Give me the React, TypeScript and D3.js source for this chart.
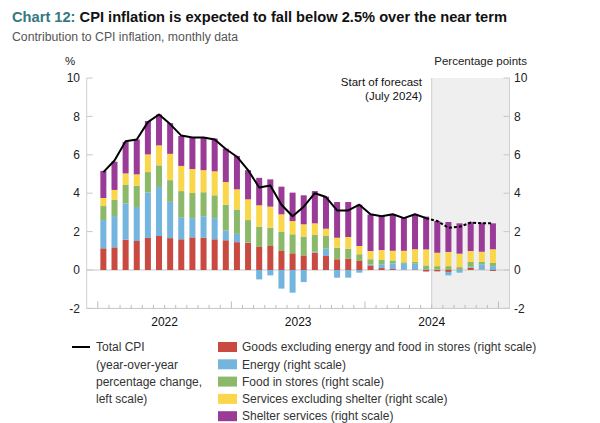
import React from "react";
import * as d3 from "d3";

const months: string[] = d3.range(36).map((i) => {
  const y = 2022 + Math.floor(i / 12);
  const m = (i % 12) + 1;
  return `${y}-${String(m).padStart(2, "0")}`;
});

const goods = [1.13,1.18,1.58,1.51,1.67,1.77,1.66,1.60,1.70,1.68,1.60,1.55, 1.45,1.42,1.20,1.25,0.99,0.87,0.76,0.90,0.73,0.56,0.59,0.47, 0.24,0.10,0.05,0.02,0.03,-0.08, -0.07,-0.10,0.02,0.12,0.02,-0.05];
const energy = [1.47,1.63,1.89,1.77,2.36,2.55,1.89,1.15,1.00,1.12,1.10,0.50, 0.43,0.02,-0.49,-0.28,-0.97,-1.18,-0.63,0.05,0.38,-0.40,-0.40,-0.14, 0.05,0.20,0.30,0.30,0.30,0.05, 0.02,-0.18,-0.14,0.05,0.28,0.20];
const food = [0.73,0.84,0.96,1.10,1.07,1.13,1.13,1.36,1.31,1.25,1.19,1.35, 1.27,1.16,1.06,0.95,0.99,0.99,0.98,0.87,0.66,0.60,0.52,0.35, 0.27,0.22,0.15,0.08,0.10,0.19, 0.18,0.20,0.13,0.25,0.12,0.18];
const servicesExShelter = [0.42,0.52,0.60,0.60,0.92,1.04,1.37,1.31,1.25,1.15,1.25,1.18, 1.05,1.08,1.11,1.10,0.92,0.69,0.64,0.61,0.38,0.52,0.61,0.43, 0.43,0.52,0.50,0.60,0.65,0.83, 0.70,0.74,0.70,0.57,0.53,0.70];
const shelter = [1.41,1.47,1.64,1.82,1.74,1.61,1.60,1.56,1.62,1.69,1.71,1.74, 1.74,1.52,1.43,1.42,1.44,1.48,1.51,1.68,1.67,1.86,1.82,2.15, 1.90,1.76,1.90,1.72,1.82,1.71, 1.65,1.56,1.58,1.51,1.52,1.35];
const totalCPI = [5.1,5.7,6.7,6.8,7.7,8.1,7.6,7.0,6.9,6.9,6.8,6.3, 5.9,5.2,4.3,4.4,3.4,2.8,3.3,4.0,3.8,3.1,3.1,3.4, 2.9,2.8,2.9,2.7,2.9,2.7, 2.55,2.2,2.25,2.47,2.43,2.43];

const forecastStart = "2024-07";
const yTicks = [-2, 0, 2, 4, 6, 8, 10];
const yearLabels = ["2022", "2023", "2024"];

const seriesKeys = ["goods", "energy", "food", "services", "shelter"];
const seriesLabels = [
  "Goods excluding energy and food in stores (right scale)",
  "Energy (right scale)",
  "Food in stores (right scale)",
  "Services excluding shelter (right scale)",
  "Shelter services (right scale)",
];
const seriesColors = ["#c94a40", "#74b5df", "#8cb86a", "#f9d64a", "#9a3b98"];

const FONT = "'Liberation Sans', Arial, Helvetica, sans-serif";

export default function App() {
  const W = 600, H = 423;
  const axL = 86.7, axR = 509.5;
  const x0 = 97.8, x1 = 498.5;
  const x = d3.scaleBand<string>().domain(months).range([x0, x1]).paddingInner(0.46).paddingOuter(0.23);
  const y = d3.scaleLinear().domain([-2, 10]).range([308.4, 78]);
  const step = x.step();

  const table = months.map((m, i) => ({
    month: m,
    goods: goods[i],
    energy: energy[i],
    food: food[i],
    services: servicesExShelter[i],
    shelter: shelter[i],
  }));
  const stacked = d3.stack<any>().keys(seriesKeys).order(d3.stackOrderNone).offset(d3.stackOffsetDiverging)(table);

  const cx = (m: string) => (x(m) as number) + x.bandwidth() / 2;
  const line = d3.line<number>().x((_, i) => cx(months[i])).y((d) => y(d));
  const fIdx = months.indexOf(forecastStart);
  const solidPts = totalCPI.slice(0, fIdx);
  const dashPts = totalCPI.map((v, i) => (i >= fIdx - 1 ? v : NaN));
  const lineDef = d3.line<number>().defined((d) => !isNaN(d)).x((_, i) => cx(months[i])).y((d) => y(d));

  const shadeX = x0 + fIdx * step;
  const bottom = y(-2);

  return (
    <svg width={W} height={H} style={{ position: "absolute", left: 0, top: 0, background: "#fff" }} fontFamily={FONT}>
      <text x={12} y={22} fontSize={15.5} fontWeight="bold" textLength={495} lengthAdjust="spacingAndGlyphs">
        <tspan fill="#36787f">Chart 12: </tspan>
        <tspan fill="#111">CPI inflation is expected to fall below 2.5% over the near term</tspan>
      </text>
      <text x={12} y={41} fontSize={12} fill="#555" textLength={226} lengthAdjust="spacingAndGlyphs">
        Contribution to CPI inflation, monthly data
      </text>

      {/* forecast shading */}
      <rect x={shadeX} y={y(10)} width={axR - shadeX} height={bottom - y(10)} fill="#efefef" />
      <line x1={shadeX} x2={shadeX} y1={y(10)} y2={bottom} stroke="#cfcfcf" strokeWidth={1} />

      {/* axes */}
      <line x1={axL} x2={axL} y1={y(10)} y2={bottom} stroke="#d0d0d0" strokeWidth={1} />
      <line x1={axR} x2={axR} y1={y(10)} y2={bottom} stroke="#d0d0d0" strokeWidth={1} />
      <line x1={axL} x2={axR} y1={bottom} y2={bottom} stroke="#c8c8c8" strokeWidth={1} />
      <line x1={axL} x2={axR} y1={y(0)} y2={y(0)} stroke="#c8c8c8" strokeWidth={1} />
      {yTicks.map((t) => (
        <g key={t}>
          <line x1={axL} x2={axL + 6} y1={y(t)} y2={y(t)} stroke="#c8c8c8" />
          <line x1={axR - 6} x2={axR} y1={y(t)} y2={y(t)} stroke="#c8c8c8" />
          <text x={80} y={y(t)} dy="0.35em" textAnchor="end" fontSize={12} fill="#222">{t}</text>
          <text x={514} y={y(t)} dy="0.35em" textAnchor="start" fontSize={12} fill="#222">{t}</text>
        </g>
      ))}
      {d3.range(37).map((i) => (
        <line key={i} x1={x0 + i * step} x2={x0 + i * step} y1={bottom} y2={bottom - (i % 12 === 0 ? 7 : 3.5)} stroke="#bdbdbd" />
      ))}
      {yearLabels.map((yl, k) => (
        <text key={yl} x={x0 + (k * 12 + 6) * step} y={326} textAnchor="middle" fontSize={12} fill="#111">{yl}</text>
      ))}
      <text x={70} y={65} textAnchor="middle" fontSize={11.5} fill="#222">%</text>
      <text x={527} y={65} textAnchor="end" fontSize={11.5} fill="#222">Percentage points</text>

      {/* bars */}
      {stacked.map((s, si) => (
        <g key={seriesKeys[si]} fill={seriesColors[si]}>
          {s.map((d, i) => (
            <rect key={i} x={x(months[i])} width={x.bandwidth()} y={y(Math.max(d[0], d[1]))} height={Math.abs(y(d[0]) - y(d[1]))} />
          ))}
        </g>
      ))}

      {/* total CPI line */}
      <path d={line(solidPts) || ""} fill="none" stroke="#000" strokeWidth={2} strokeLinejoin="round" />
      <path d={lineDef(dashPts) || ""} fill="none" stroke="#000" strokeWidth={2} strokeDasharray="3,2" />

      <text x={422} y={86} textAnchor="end" fontSize={11.5} fill="#111">Start of forecast</text>
      <text x={422} y={100} textAnchor="end" fontSize={11.5} fill="#111">(July 2024)</text>

      {/* legend */}
      <line x1={72} x2={90} y1={347} y2={347} stroke="#000" strokeWidth={2} />
      {["Total CPI", "(year-over-year", "percentage change,", "left scale)"].map((t, i) => (
        <text key={t} x={96} y={347 + i * 17.3} dy="0.35em" fontSize={12} fill="#333">{t}</text>
      ))}
      {seriesLabels.map((t, i) => (
        <g key={t}>
          <rect x={218} y={342 + i * 17.3} width={19} height={10} fill={seriesColors[i]} />
          <text x={242} y={347 + i * 17.3} dy="0.35em" fontSize={12} fill="#333">{t}</text>
        </g>
      ))}
    </svg>
  );
}
